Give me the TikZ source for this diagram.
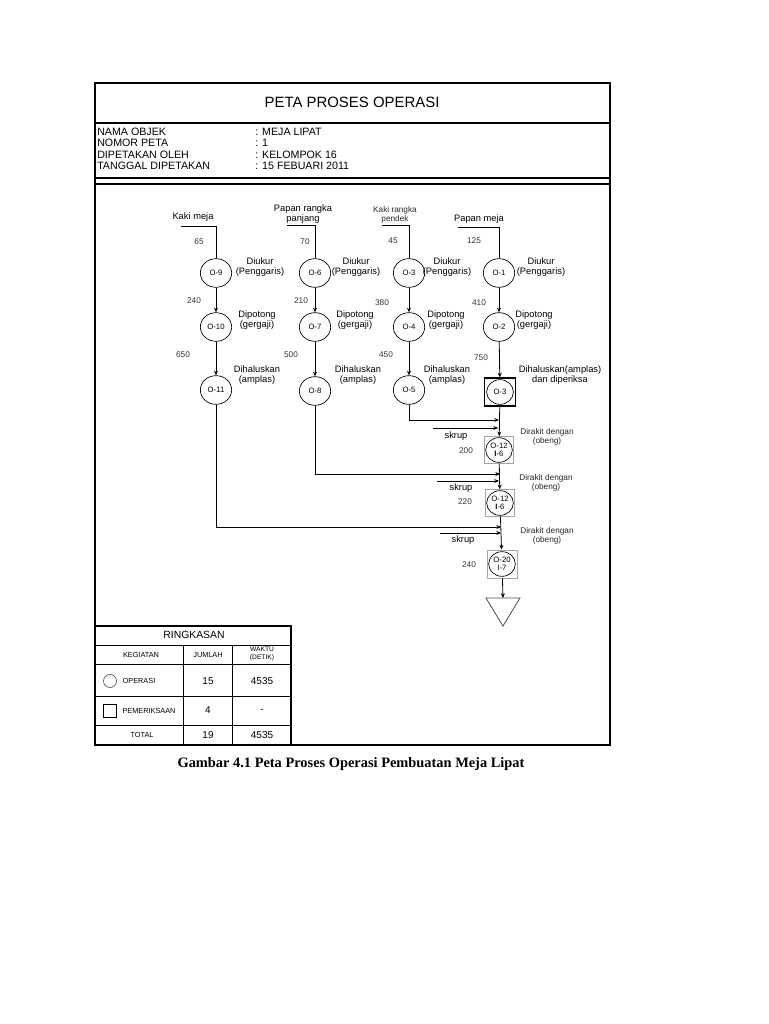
\documentclass[tikz,border=0pt]{standalone}
\usepackage{fontspec}
\setmainfont{Liberation Sans}
\newfontfamily\capfont{Liberation Serif}
\usetikzlibrary{arrows.meta,shapes.geometric}
\newcommand\fsz[2]{\fontsize{#1}{#2}\selectfont}
\begin{document}
\begin{tikzpicture}[x=0.75pt,y=-0.75pt,
  frame/.style={line width=0.8pt},
  op/.style={ellipse,draw,line width=0.5pt,minimum width=23.5pt,minimum height=21.5pt,inner sep=0pt,font=\fsz{5.8}{6}},
  opin/.style={ellipse,draw,line width=0.5pt,minimum width=20pt,minimum height=18.5pt,inner sep=0pt,align=center,font=\fsz{5.8}{6}},
  sqbox/.style={draw=gray!70,line width=0.6pt,minimum width=21.5pt,minimum height=20pt,inner sep=0pt},
  lbl/.style={font=\fsz{7}{7.8},align=center,inner sep=0pt},
  slbl/.style={font=\fsz{6.2}{6.9},align=center,inner sep=0pt,text=black!85},
  num/.style={font=\fsz{6.2}{7},inner sep=0pt,text=black!80},
  info/.style={font=\fsz{8}{8.6},anchor=west,inner sep=0pt},
  tbl/.style={font=\fsz{5.5}{6},inner sep=0pt,align=center},
  tblnum/.style={font=\fsz{7.5}{8},inner sep=0pt},
  con/.style={line width=0.6pt},
  arr/.style={con,-{Stealth[length=3.5pt,width=3pt]}}
]
\useasboundingbox (0,0) rectangle (768,1024);

% frame
\draw[frame] (95,83) rectangle (610,745);
\draw[frame] (95,123) -- (610,123);
\draw[frame] (95,178) -- (610,178);
\draw[frame] (95,184) -- (610,184);
\node[font=\fsz{11.2}{12}] (title) at (352,102) {PETA PROSES OPERASI};
\node[info] (i1) at (97,132) {NAMA OBJEK};
\node[info] (i2) at (97,143) {NOMOR PETA};
\node[info] (i3) at (97,155) {DIPETAKAN OLEH};
\node[info] (i4) at (97,166) {TANGGAL DIPETAKAN};
\node[info] (v1) at (255,132) {: MEJA LIPAT};
\node[info] (v2) at (255,143) {: 1};
\node[info] (v3) at (255,155) {: KELOMPOK 16};
\node[info] (v4) at (255,166) {: 15 FEBUARI 2011};

% raw material labels
\node[lbl] (m1) at (193,217) {Kaki meja};
\node[lbl] (m2) at (303,214) {Papan rangka\\panjang};
\node[slbl] (m3) at (395,215) {Kaki rangka\\pendek};
\node[lbl] (m4) at (479,219) {Papan meja};
\coordinate (k1) at (181,226);
\coordinate (k2) at (287,225);
\coordinate (k3) at (382,225);
\coordinate (k4) at (458,227);

% operation circles
\node[op] (o9) at (216,273) {O-9};
\node[op] (o10) at (216,327) {O-10};
\node[op] (o11) at (216,390) {O-11};
\node[op] (o6) at (315,273) {O-6};
\node[op] (o7) at (315,327) {O-7};
\node[op] (o8) at (315,391) {O-8};
\node[op] (o3a) at (409,273) {O-3};
\node[op] (o4) at (409,327) {O-4};
\node[op] (o5) at (409,390) {O-5};
\node[op] (o1) at (499,273) {O-1};
\node[op] (o2) at (499,327) {O-2};
\node[draw,line width=0.9pt,minimum width=23pt,minimum height=21pt,inner sep=0pt] (o3sq) at (500,392) {};
\node[opin] (o3b) at (o3sq) {O-3};

% connectors in columns
\draw[con] (k1) -| (o9);
\draw[con] (k2) -| (o6);
\draw[con] (k3) -| (o3a);
\draw[con] (k4) -| (o1);
\draw[arr] (o9) -- (o10);
\draw[arr] (o10) -- (o11);
\draw[arr] (o6) -- (o7);
\draw[arr] (o7) -- (o8);
\draw[arr] (o3a) -- (o4);
\draw[arr] (o4) -- (o5);
\draw[arr] (o1) -- (o2);
\draw[arr] (o2) -- (o3sq);

% numbers
\node[num] at (199,242) {65};
\node[num] at (305,242) {70};
\node[num] at (393,241) {45};
\node[num] at (474,241) {125};
\node[num] at (194,301) {240};
\node[num] at (301,301) {210};
\node[num] at (382,303) {380};
\node[num] at (479,303) {410};
\node[num] at (183,355) {650};
\node[num] at (291,355) {500};
\node[num] at (386,355) {450};
\node[num] at (481,358) {750};

% operation descriptions
\node[lbl] at (260,267) {Diukur\\(Penggaris)};
\node[lbl] at (356,267) {Diukur\\(Penggaris)};
\node[lbl] at (447,267) {Diukur\\(Penggaris)};
\node[lbl] at (541,267) {Diukur\\(Penggaris)};
\node[lbl] at (257,320) {Dipotong\\(gergaji)};
\node[lbl] at (355,320) {Dipotong\\(gergaji)};
\node[lbl] at (446,320) {Dipotong\\(gergaji)};
\node[lbl] at (534,320) {Dipotong\\(gergaji)};
\node[lbl] at (257,375) {Dihaluskan\\(amplas)};
\node[lbl] at (358,375) {Dihaluskan\\(amplas)};
\node[lbl] at (447,375) {Dihaluskan\\(amplas)};
\node[lbl] at (560,375) {Dihaluskan(amplas)\\dan diperiksa};

% assembly nodes
\node[sqbox] (a1) at (499,450) {};
\node[opin] (a1c) at (a1) {O-12\\\textbf{I}-6};
\node[sqbox] (a2) at (500,503) {};
\node[opin] (a2c) at (a2) {O-12\\\textbf{I}-6};
\node[sqbox,minimum width=22.5pt,minimum height=21pt] (a3) at (502,564) {};
\node[opin] (a3c) at (a3) {O-20\\I-7};
\draw[draw=black!70,line width=0.6pt] (486,598) -- (520,598) -- (503,626) -- cycle;
\coordinate (tri) at (503,598);

\coordinate (j1) at (499,420);
\coordinate (j2) at (500,474);
\coordinate (j3) at (501,527);
\draw[arr] (o5) |- (j1);
\draw[arr] (o8) |- (j2);
\draw[arr] (o11) |- (j3);
\draw[arr] (o3sq) -- (a1);
\draw[arr] (a1) -- (a2);
\draw[arr] (a2) -- (a3);
\draw[arr] (a3) -- (tri);

\coordinate (s1) at (433,428);
\coordinate (e1) at (498,428);
\coordinate (s2) at (437,481);
\coordinate (e2) at (499,481);
\coordinate (s3) at (440,533);
\coordinate (e3) at (501,533);
\draw[arr] (s1) -- (e1);
\draw[arr] (s2) -- (e2);
\draw[arr] (s3) -- (e3);
\node[lbl] at (456,436) {skrup};
\node[lbl] at (461,488) {skrup};
\node[lbl] at (463,540) {skrup};
\node[num] at (466,451) {200};
\node[num] at (465,502) {220};
\node[num] at (469,565) {240};
\node[slbl] at (547,437) {Dirakit dengan\\(obeng)};
\node[slbl] at (546,483) {Dirakit dengan\\(obeng)};
\node[slbl] at (547,536) {Dirakit dengan\\(obeng)};

% summary table
\draw[frame] (95,626) rectangle (291,745);
\draw[line width=0.6pt] (95,645) -- (291,645);
\draw[line width=0.6pt] (95,664) -- (291,664);
\draw[line width=0.6pt] (95,696) -- (291,696);
\draw[line width=0.6pt] (95,725) -- (291,725);
\draw[line width=0.6pt] (183,645) -- (183,745);
\draw[line width=0.6pt] (232,645) -- (232,745);
\node[font=\fsz{7.8}{8}] (rk) at (194,635) {RINGKASAN};
\node[tbl] at (141,655) {KEGIATAN};
\node[tbl] at (208,655) {JUMLAH};
\node[tbl,font=\fsz{5}{5.5}] at (262,654) {WAKTU\\(DETIK)};
\draw[line width=0.5pt,draw=black!70] (110,681) circle [radius=6.5];
\node[tbl] at (139,681) {OPERASI};
\node[tblnum] at (208,681) {15};
\node[tblnum] at (262,681) {4535};
\draw[line width=0.6pt] (103,704) rectangle (116,717);
\node[tbl] at (149,711) {PEMERIKSAAN};
\node[tblnum] at (208,710) {4};
\node[tblnum] at (262,711) {-};
\node[tbl] at (142,735) {TOTAL};
\node[tblnum] at (208,735) {19};
\node[tblnum] at (262,735) {4535};

% caption
\node[font=\capfont\bfseries\fsz{10.8}{12}] (cap) at (351,764) {Gambar 4.1 Peta Proses Operasi Pembuatan Meja Lipat};
\end{tikzpicture}
\end{document}
